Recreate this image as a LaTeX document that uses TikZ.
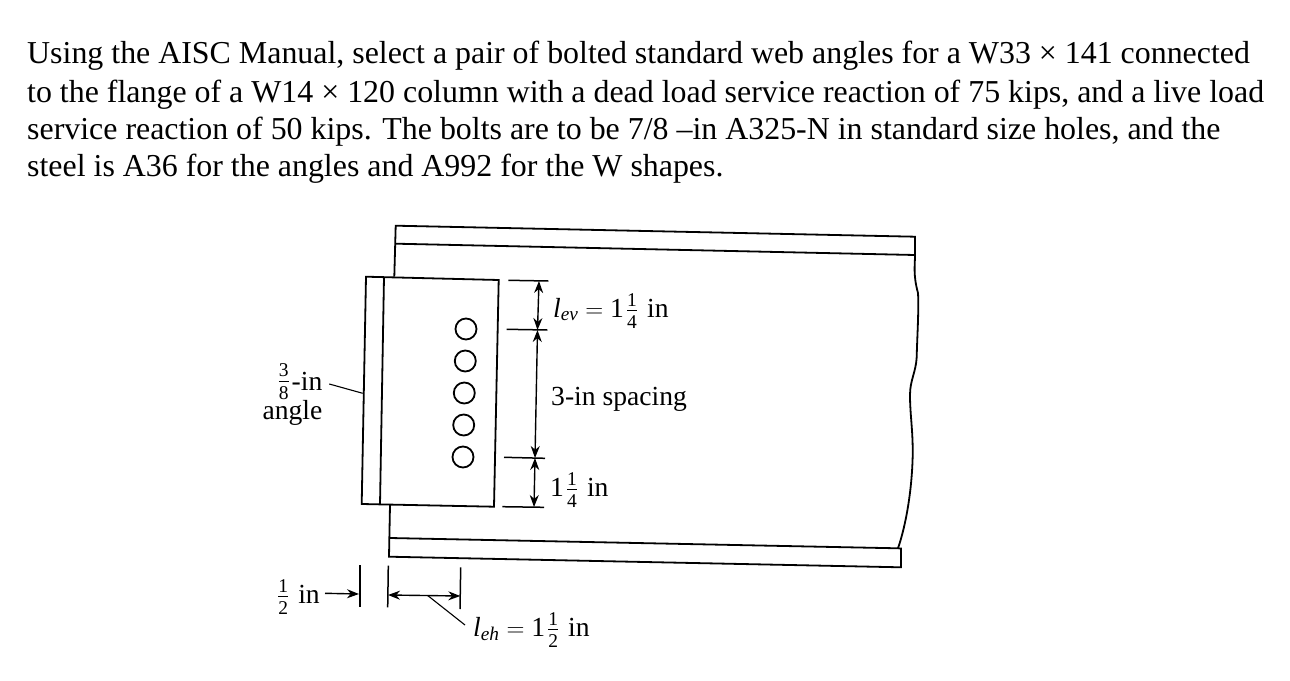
\documentclass[tikz,border=0pt]{standalone}
\usepackage{amsmath}
\usepackage{fontspec}
\setmainfont{Liberation Serif}
\usetikzlibrary{arrows.meta}
\newcommand{\frc}[2]{\hspace{2pt}\ensuremath{\genfrac{}{}{1.1pt}{1}{\text{\fontsize{19.5}{19}\selectfont\rule[-3pt]{0pt}{3pt}#1}}{\text{\fontsize{19.5}{19}\selectfont\rule{0pt}{16pt}#2}}}\hspace{2pt}}
\tikzset{
	para/.style={anchor=base west, inner sep=0pt, font=\fontsize{31.9}{36}\selectfont},
	dimtext/.style={anchor=base west, inner sep=0pt, font=\fontsize{27.6}{29}\selectfont},
	steel/.style={line width=1.8pt, line join=miter},
	dimline/.style={line width=1.5pt},
	dimarrow/.style={line width=1.4pt, arrows={Stealth[length=12pt,width=9pt]-Stealth[length=12pt,width=9pt]}},
	onearrow/.style={line width=1.4pt, arrows={-Stealth[length=12pt,width=9pt]}},
	leader/.style={line width=1.1pt},
}
\begin{document}
\begin{tikzpicture}[x=1pt,y=-1pt]
	\useasboundingbox (0,0) rectangle (1290,680);
	% problem text
	\node[para] (lineA) at (27,63) {Using the AISC Manual, select a pair of bolted standard web angles for a W33 × 141 connected};
	\node[para] (lineB) at (27,102) {to the flange of a W14 × 120 column with a dead load service reaction of 75 kips, and a live load};
	\node[para] (lineC) at (27,139) {service reaction of 50 kips. The bolts are to be 7/8 --in A325-N in standard size holes, and the};
	\node[para] (lineD) at (27,176) {steel is A36 for the angles and A992 for the W shapes.};
	% beam
	\draw[steel] (394.3,276.7)--(395.7,225.7)--(915,236.7)--(915,255);
	\draw[steel] (396,243.7)--(915,255);
	\draw[steel] (915,255) .. controls (915,265) and (913,275) .. (918,293) .. controls (919,310) and (917,340) .. (916.7,357) .. controls (916,372) and (910,380) .. (910,395) .. controls (910,415) and (913,430) .. (912.7,455) .. controls (912,490) and (906,525) .. (898,548.3);
	\draw[steel] (390,505)--(389,556.7)--(901,567.3)--(901,548.5)--(898,548.3)--(390,538);
	% angle
	\draw[steel] (366,276.7)--(498.7,280)--(494,506.7)--(361.7,504)--cycle;
	\draw[steel] (384,277)--(380,504.5);
	% bolts
	\foreach \i/\x/\y in {1/466/329, 2/465.3/361, 3/464.3/393, 4/463.7/425, 5/463/457}
		\draw[steel] (\x,\y) circle (10.5);
	% dimension lines
	\coordinate (evA) at (539,281);
	\coordinate (evB) at (537.5,330);
	\coordinate (evC) at (535,458);
	\coordinate (evD) at (534,507);
	\draw[dimline] (508.3,280.3)--(548.3,281);
	\draw[dimline] (506.7,329.3)--(547.3,330);
	\draw[dimline] (504,457.3)--(545,458.3);
	\draw[dimline] (502.3,506.7)--(544,507.3);
	\draw[dimarrow] (evA)--(evB);
	\draw[dimarrow] (evB)--(evC);
	\draw[dimarrow] (evC)--(evD);
	\node[dimtext] (lev) at (553,317) {\textit{l}$_{\textit{ev}}$ $=$ 1\frc{1}{4} in};
	\node[dimtext] (spacing) at (551,405) {3-in spacing};
	\node[dimtext] (lastev) at (550,496) {1\frc{1}{4} in};
	% angle label
	\node[dimtext, align=right, anchor=center] (anglelabel) at (292.5,399) {\smash{\raisebox{3pt}{\frc{3}{8}}}-in\\angle};
	\coordinate (anglestart) at (329.3,384);
	\coordinate (angleleg) at (362.7,393.3);
	\draw[leader] (anglestart)--(angleleg);
	% bottom dimensions
	\coordinate (halfstart) at (325,593.3);
	\coordinate (tickA) at (359,594);
	\coordinate (tickB) at (388,595);
	\coordinate (tickC) at (460.3,596);
	\coordinate (legend) at (428.3,596);
	\coordinate (legstop) at (465,625);
	\draw[dimline] (360,565)--(360,606.7);
	\draw[dimline] (388.3,565.7)--(387.7,607.3);
	\draw[dimline] (460.7,567.3)--(460,609);
	\node[dimtext] (halfin) at (275,603) {\frc{1}{2} in};
	\draw[onearrow] (halfstart)--(tickA);
	\draw[dimarrow] (tickB)--(tickC);
	\node[dimtext] (leh) at (473,636) {\textit{l}$_{\textit{eh}}$ $=$ 1\frc{1}{2} in};
	\draw[leader] (legend)--(legstop);
\end{tikzpicture}
\end{document}
